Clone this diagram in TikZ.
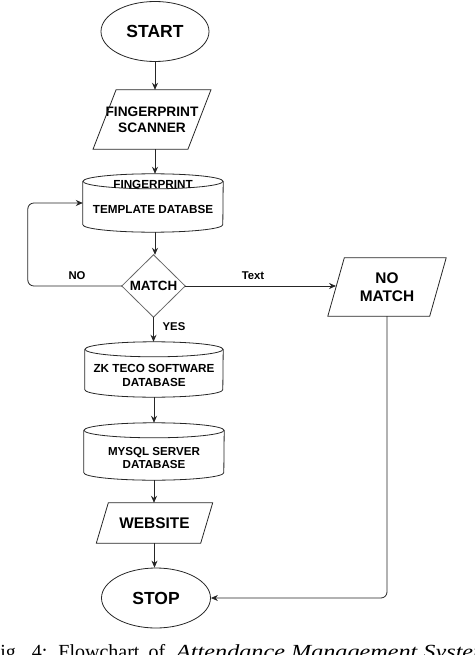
\documentclass[tikz,border=0pt]{standalone}
\usepackage{fontspec}
\usepackage{graphicx}
\setmainfont{Liberation Sans}
\newfontfamily\capfont{Liberation Serif}
\usetikzlibrary{arrows.meta,shapes.geometric,calc}
\tikzset{
  line/.style={draw=black!85, line width=0.8pt},
  arr/.style={line, -{Stealth[length=7pt,width=6pt]}},
  term/.style={ellipse, draw=black!85, line width=0.8pt, inner sep=0pt, font=\bfseries\fontsize{17.5}{20}\selectfont},
  box/.style={rectangle, inner sep=0pt, align=center},
  lbl/.style={font=\bfseries\fontsize{11.3}{13}\selectfont, inner sep=0pt},
}
\newcommand{\drawpara}[2]{\draw[line] ([xshift={#2/2}]#1.north west) -- ([xshift={#2/2}]#1.north east) -- ([xshift={-#2/2}]#1.south east) -- ([xshift={-#2/2}]#1.south west) -- cycle;}
\newcommand{\drawcyl}[3]{%
  \draw[line] ([yshift=-#3]#1.north) ellipse[x radius=#2, y radius=#3];
  \draw[line] ([yshift=-#3]#1.north west) -- ([yshift=#3]#1.south west) arc[start angle=180, end angle=360, x radius=#2, y radius=#3] -- ([yshift=-#3]#1.north east);}
\begin{document}
\begin{tikzpicture}[x=1pt,y=1pt]
\useasboundingbox (0,0) rectangle (474,-655);
% nodes
\node[term, minimum width=108pt, minimum height=60pt] (start) at (155,-31.5) {START};
\node[box, minimum width=94.5pt, minimum height=59pt, font=\bfseries\fontsize{13.7}{16}\selectfont] (scan) at (152,-119.5) {FINGERPRINT\\SCANNER};
\drawpara{scan}{23pt}
\node[box, minimum width=140pt, minimum height=58pt] (db1) at (153,-203) {};
\drawcyl{db1}{70pt}{7.5pt}
\node[box, font=\bfseries\fontsize{11.7}{25}\selectfont] (db1t) at (153,-196.5) {FINGERPRINT\\TEMPLATE DATABSE};
\node[box, minimum width=63pt, minimum height=62pt, font=\bfseries\fontsize{13.4}{15}\selectfont] (match) at (153.5,-286) {MATCH};
\draw[line, draw=black!60] (match.north) -- (match.east) -- (match.south) -- (match.west) -- cycle;
\node[box, minimum width=101.5pt, minimum height=58pt, font=\bfseries\fontsize{15.4}{18.5}\selectfont] (nomatch) at (387,-287) {NO\\MATCH};
\drawpara{nomatch}{16.5pt}
\node[box, minimum width=138pt, minimum height=55pt] (zk) at (154,-369.5) {};
\drawcyl{zk}{69pt}{7.5pt}
\node[box, font=\bfseries\fontsize{11.7}{14}\selectfont] (zkt) at (154,-375) {ZK TECO SOFTWARE\\DATABASE};
\node[box, minimum width=140pt, minimum height=57pt] (mysql) at (154,-451.5) {};
\drawcyl{mysql}{70pt}{7.5pt}
\node[box, font=\bfseries\fontsize{11.6}{13}\selectfont] (mysqlt) at (154,-458) {MYSQL SERVER\\DATABASE};
\node[box, minimum width=104pt, minimum height=40pt, font=\bfseries\fontsize{15.4}{18}\selectfont] (web) at (154.5,-523) {WEBSITE};
\drawpara{web}{12pt}
\node[term, minimum width=109pt, minimum height=60pt] (stop) at (156,-598) {STOP};
% labels
\node[lbl] (no) at (77,-276) {NO};
\node[lbl] (txt) at (253,-276) {Text};
\node[lbl] (yes) at (174,-327) {YES};
% connectors
\draw[arr] (start.south) -- (start.south |- scan.north);
\draw[arr] (start.south |- scan.south) -- (start.south |- db1.north);
\draw[arr] (start.south |- db1.south) -- (start.south |- match.north);
\draw[arr, rounded corners=6pt] (match.west) -- ++(-94,0) |- (db1.west);
\draw[arr] (match.east) -- (nomatch.west |- match.east);
\draw[arr] (match.south) -- (match.south |- zk.north);
\draw[arr] (zk.south) -- (mysql.north);
\draw[arr] (mysql.south) -- (mysql.south |- web.north);
\draw[arr] (web.south) -- (web.south |- stop.north);
\draw[arr, rounded corners=6pt] (nomatch.south) |- (stop.east);
% caption
\node[anchor=base west, inner sep=0pt, font=\capfont\fontsize{20}{24}\selectfont] (cap) at (-11,-658) {Fig.\hspace{11pt}4:\hspace{11pt}Flowchart\hspace{9pt}of\hspace{11pt}\scalebox{1.21}[1]{\itshape Attendance Management System}};
\end{tikzpicture}
\end{document}
